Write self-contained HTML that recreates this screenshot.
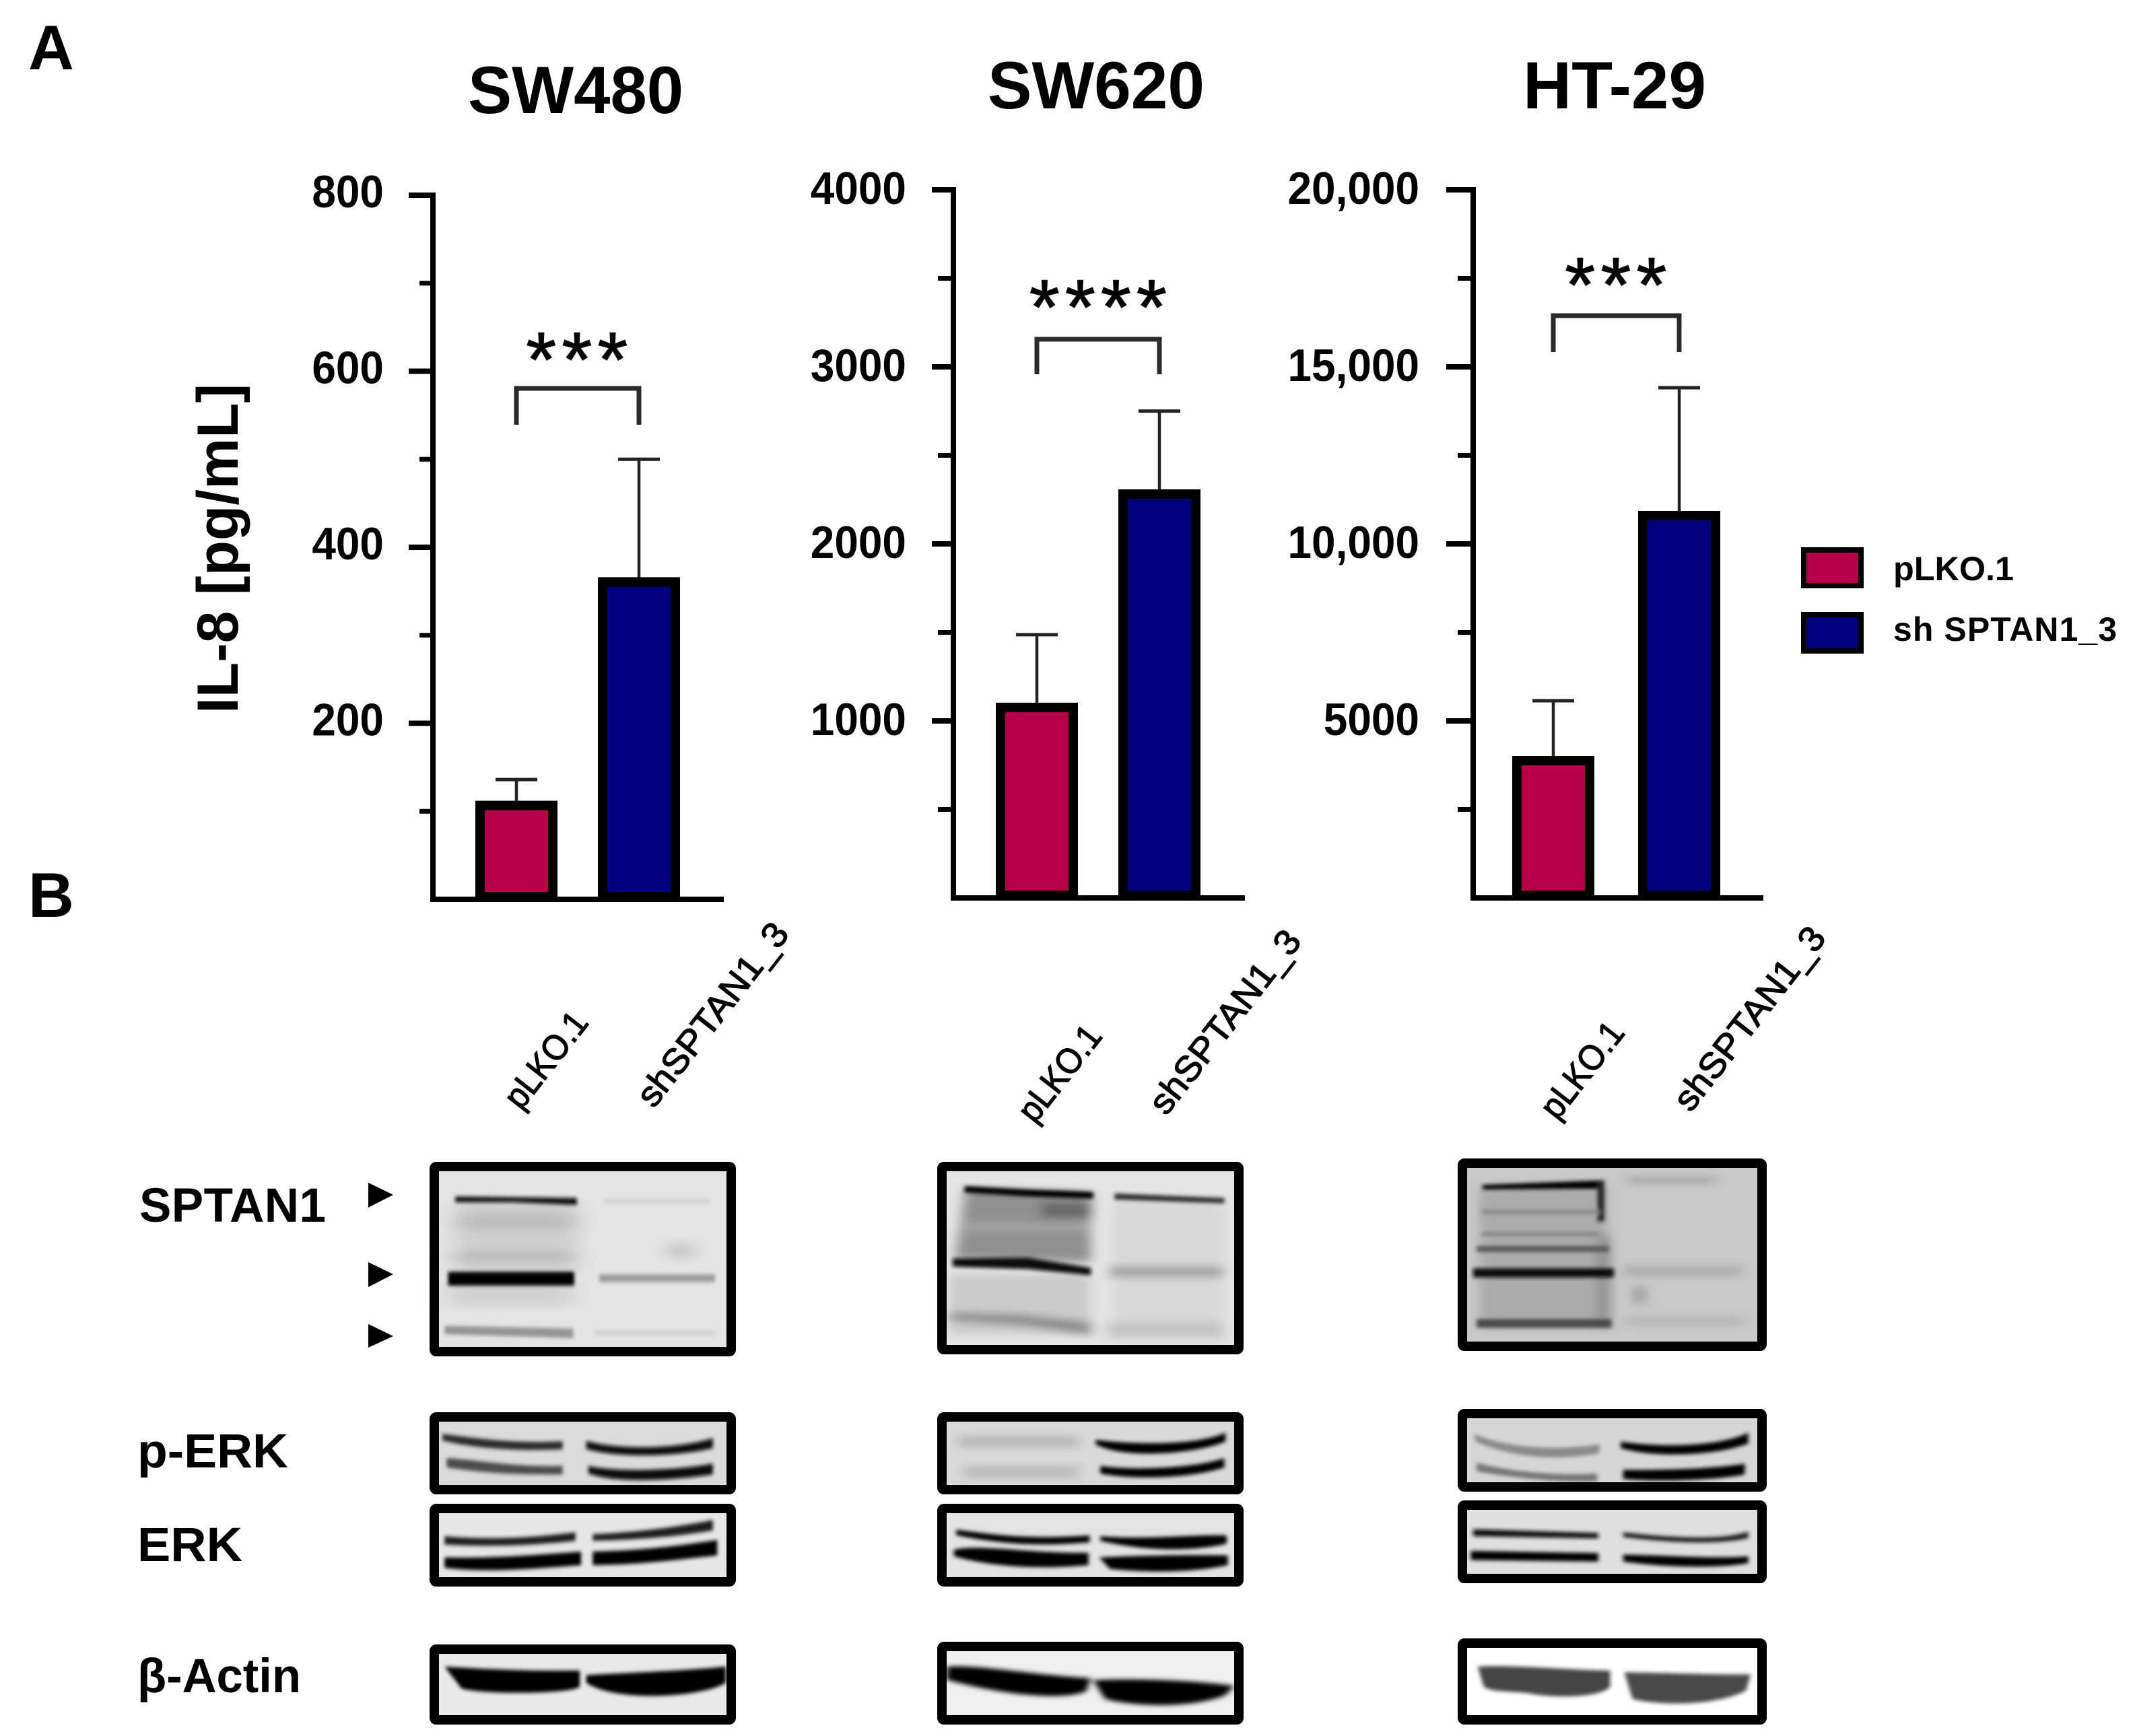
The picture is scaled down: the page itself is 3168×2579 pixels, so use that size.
<!DOCTYPE html>
<html lang="en">
<head>
<meta charset="utf-8">
<title>IL-8 secretion and western blots</title>
<style>
html,body{margin:0;padding:0;background:#fff}
svg{display:block}
text{font-family:"Liberation Sans",sans-serif;fill:#000}
.b{font-weight:bold}
.xl{font-size:53px;stroke:#000;stroke-width:1.3px}
.bl{font-weight:bold;font-size:71px}
</style>
</head>
<body>
<svg id="fig" xmlns="http://www.w3.org/2000/svg" width="3168" height="2579" viewBox="0 0 3168 2579">
<defs>
<filter id="bw" x="-5%" y="-20%" width="110%" height="140%"><feGaussianBlur stdDeviation="4 5"/></filter>
<filter id="bn" x="-5%" y="-20%" width="110%" height="140%"><feGaussianBlur stdDeviation="9 5"/></filter>
<filter id="bs" x="-5%" y="-20%" width="110%" height="140%"><feGaussianBlur stdDeviation="14 6"/></filter>
<filter id="bx" x="-10%" y="-10%" width="120%" height="120%"><feGaussianBlur stdDeviation="26 10"/></filter>
</defs>
<rect width="3168" height="2579" fill="#fff"/>

<text class="b" x="42" y="103" font-size="94">A</text>
<text class="b" x="42" y="1362" font-size="94">B</text>
<text class="b" transform="translate(353,1060) rotate(-90)" font-size="86" textLength="490" lengthAdjust="spacingAndGlyphs">IL-8 [pg/mL]</text>

<g id="charts"></g>

<g>
<rect x="2679" y="817" width="85" height="53" fill="#b8004a" stroke="#000" stroke-width="8"/>
<text class="b" x="2812" y="862" font-size="50" fill="#222" textLength="179" lengthAdjust="spacingAndGlyphs">pLKO.1</text>
<rect x="2679" y="913" width="85" height="54" fill="#000080" stroke="#000" stroke-width="8"/>
<text class="b" x="2812" y="952" font-size="50" fill="#222" textLength="332" lengthAdjust="spacing">sh SPTAN1_3</text>
</g>

<g>
<text class="bl" x="207" y="1815" textLength="277" lengthAdjust="spacing">SPTAN1</text>
<text class="bl" x="204" y="2180" textLength="224" lengthAdjust="spacingAndGlyphs">p-ERK</text>
<text class="bl" x="204" y="2319" textLength="156" lengthAdjust="spacingAndGlyphs">ERK</text>
<text class="bl" x="204" y="2514" textLength="243" lengthAdjust="spacingAndGlyphs">β-Actin</text>
<polygon points="547,1757 584,1775 547,1794"/>
<polygon points="547,1875 584,1893 547,1912"/>
<polygon points="547,1967 584,1985 547,2002"/>
</g>

<!-- column 1 blots -->
<g transform="translate(150,1680) scale(.6378,.5734)">
<rect x="787" y="103" width="670" height="459" fill="#e4e4e4"/>
<rect x="787" y="752" width="670" height="168" fill="#dadada"/>
<rect x="787" y="990" width="670" height="167" fill="#e6e6e6"/>
<rect x="787" y="1355" width="670" height="160" fill="#e9e9e9"/>
<g filter="url(#bx)">
<rect x="825" y="185" width="283" height="180" fill="#cdcdcd"/>
<rect x="825" y="215" width="283" height="40" fill="#bebebe"/>
<rect x="820" y="315" width="283" height="20" fill="#b6b6b6"/>
<rect x="808" y="395" width="290" height="60" fill="#d2d2d2"/>
<circle cx="1350" cy="310" r="24" fill="#bdbdbd"/>
</g>
<g filter="url(#bw)">
<path d="M825,170 L1108,174 L1108,192 L960,185 L825,185Z" fill="#0c0c0c"/>
<rect x="808" y="365" width="294" height="36" fill="#000"/>
<path d="M800,505 L1100,512 L1100,537 L800,527Z" fill="#949494"/>
<rect x="1160" y="372" width="270" height="20" fill="#9c9c9c"/>
<rect x="1170" y="176" width="250" height="12" fill="#d2d2d2"/>
<rect x="1150" y="516" width="280" height="14" fill="#d2d2d2"/>
<path d="M795,785 C850,792 950,812 1075,804 L1075,825 C950,832 850,818 795,802Z" fill="#2a2a2a"/>
<path d="M805,848 C880,852 960,872 1075,868 L1075,890 C960,892 880,885 805,872Z" fill="#4c4c4c"/>
<path d="M1130,803 C1200,826 1340,826 1425,796 L1425,822 C1340,845 1200,848 1130,824Z" fill="#0a0a0a"/>
<path d="M1135,868 C1200,885 1340,880 1425,862 L1425,890 C1340,905 1200,915 1135,888Z" fill="#0a0a0a"/>
<path d="M800,1050 C900,1060 1000,1055 1105,1040 L1105,1062 C1000,1075 900,1078 800,1072Z" fill="#1c1c1c"/>
<path d="M800,1105 C900,1108 1000,1100 1118,1090 L1118,1125 C1000,1135 900,1145 800,1132Z" fill="#000"/>
<path d="M1145,1045 C1250,1040 1350,1025 1425,1008 L1425,1035 C1350,1050 1250,1060 1145,1062Z" fill="#1c1c1c"/>
<path d="M1145,1090 C1250,1088 1350,1075 1435,1060 L1435,1100 C1350,1110 1250,1125 1145,1125Z" fill="#000"/>
<path d="M800,1388 C900,1395 1000,1400 1115,1398 L1115,1440 C1100,1458 900,1462 840,1445Z" fill="#000"/>
<path d="M1130,1410 C1200,1405 1350,1400 1455,1388 L1455,1430 C1400,1468 1200,1482 1130,1430Z" fill="#000"/>
</g>
</g>

<!-- column 2 blots -->
<g transform="translate(1350,1680) scale(.3509,.5734)">
<rect x="160" y="103" width="1217" height="452" fill="#e4e4e4"/>
<rect x="160" y="752" width="1217" height="168" fill="#d9d9d9"/>
<rect x="160" y="990" width="1217" height="167" fill="#e3e3e3"/>
<rect x="160" y="1347" width="1217" height="168" fill="#efefef"/>
<g filter="url(#bx)">
<polygon points="240,150 770,160 770,340 195,330" fill="#909090"/>
<rect x="230" y="240" width="540" height="20" fill="#a6a6a6"/>
<rect x="560" y="185" width="210" height="40" fill="#686868"/>
<rect x="170" y="372" width="600" height="155" fill="#cbcbcb"/>
<path d="M170,470 L480,475 L770,495 L770,530 L480,505 L170,492Z" fill="#8e8e8e"/>
<rect x="865" y="185" width="470" height="360" fill="#d8d8d8"/>
<rect x="850" y="350" width="480" height="30" fill="#a4a4a4"/>
<rect x="840" y="495" width="490" height="40" fill="#c4c4c4"/>
<rect x="210" y="790" width="510" height="30" fill="#b8b8b8"/>
<rect x="230" y="868" width="490" height="32" fill="#bbb"/>
</g>
<g filter="url(#bn)">
<path d="M235,143 L500,152 L780,158 L780,176 L500,170 L235,160Z" fill="#000"/>
<path d="M185,330 L500,328 L770,355 L770,374 L500,358 L185,352Z" fill="#0a0a0a"/>
<path d="M870,162 L1335,174 L1335,188 L870,178Z" fill="#2e2e2e"/>
<path d="M790,800 C900,810 1200,820 1340,782 L1340,805 C1200,840 900,850 790,812Z" fill="#000"/>
<path d="M810,868 C950,880 1200,875 1335,848 L1335,872 C1200,900 950,905 810,888Z" fill="#000"/>
<path d="M200,1033 C350,1045 500,1060 765,1048 L765,1066 C500,1080 350,1065 200,1048Z" fill="#000"/>
<path d="M190,1085 C300,1070 500,1095 760,1093 L760,1125 C500,1140 300,1122 190,1102Z" fill="#000"/>
<path d="M810,1050 C1000,1060 1200,1045 1345,1048 L1345,1070 C1200,1090 1000,1090 810,1062Z" fill="#000"/>
<path d="M805,1105 C1000,1100 1200,1098 1350,1100 L1350,1125 C1200,1145 1000,1145 850,1135Z" fill="#000"/>
</g>
<g filter="url(#bs)">
<path d="M160,1388 C300,1383 500,1408 770,1418 L750,1452 C650,1477 400,1462 160,1422Z" fill="#000"/>
<path d="M780,1423 C950,1418 1200,1423 1377,1438 L1340,1462 C1200,1497 950,1492 830,1472Z" fill="#000"/>
</g>
</g>

<!-- column 3 blots -->
<g transform="translate(2130,1680) scale(.3509,.5734)">
<rect x="138" y="95" width="1230" height="452" fill="#c9c9c9"/>
<rect x="138" y="745" width="1230" height="165" fill="#d6d6d6"/>
<rect x="138" y="982" width="1230" height="166" fill="#dfdfdf"/>
<rect x="138" y="1340" width="1230" height="175" fill="#fff"/>
<g filter="url(#bx)">
<rect x="190" y="145" width="545" height="365" fill="#ababab"/>
<rect x="700" y="270" width="40" height="240" fill="#7e7e7e"/>
<circle cx="870" cy="425" r="26" fill="#9a9a9a"/>
<rect x="800" y="352" width="500" height="22" fill="#a8a8a8"/>
<rect x="810" y="484" width="500" height="18" fill="#b0b0b0"/>
<rect x="820" y="120" width="370" height="16" fill="#a0a0a0"/>
</g>
<g filter="url(#bn)">
<path d="M205,140 L720,128 L720,150 L205,152Z" fill="#000"/>
<rect x="692" y="130" width="28" height="105" fill="#222"/>
<rect x="200" y="205" width="500" height="10" fill="#858585"/>
<rect x="200" y="262" width="500" height="10" fill="#858585"/>
<rect x="180" y="298" width="560" height="16" fill="#5c5c5c"/>
<rect x="165" y="356" width="595" height="24" fill="#0c0c0c"/>
<rect x="180" y="488" width="570" height="22" fill="#484848"/>
<path d="M170,785 C300,820 500,830 700,812 L700,835 C500,860 300,840 175,805Z" fill="#8a8a8a"/>
<path d="M180,860 C300,880 500,895 690,888 L690,908 C500,912 300,895 180,882Z" fill="#757575"/>
<path d="M790,805 C950,820 1200,820 1330,782 L1330,810 C1200,840 950,850 790,822Z" fill="#000"/>
<path d="M800,878 C950,880 1200,875 1315,862 L1315,890 C1200,905 950,910 800,902Z" fill="#000"/>
<path d="M165,1032 L695,1042 L695,1056 L165,1050Z" fill="#0a0a0a"/>
<path d="M155,1088 L695,1094 L695,1116 L155,1112Z" fill="#000"/>
<path d="M800,1040 C950,1050 1200,1065 1330,1038 L1330,1055 C1200,1075 950,1065 800,1052Z" fill="#1c1c1c"/>
<path d="M800,1098 C950,1098 1200,1110 1330,1102 L1330,1120 C1200,1135 950,1130 800,1116Z" fill="#000"/>
<path d="M185,1388 C350,1383 600,1398 745,1398 L745,1440 C700,1470 500,1470 400,1457 C300,1450 250,1455 210,1440Z" fill="#444"/>
<path d="M805,1403 C950,1403 1200,1410 1340,1408 L1320,1450 C1200,1490 950,1490 840,1472Z" fill="#484848"/>
</g>
</g>

<!-- blot frames -->
<g fill="none" stroke="#000" stroke-width="14">
<rect x="645" y="1733" width="441" height="275" rx="3"/>
<rect x="645" y="2105" width="441" height="108" rx="3"/>
<rect x="645" y="2241" width="441" height="109" rx="3"/>
<rect x="645" y="2450" width="441" height="105" rx="3"/>
<rect x="1399" y="1733" width="441" height="272" rx="3"/>
<rect x="1399" y="2105" width="441" height="108" rx="3"/>
<rect x="1399" y="2241" width="441" height="109" rx="3"/>
<rect x="1399" y="2446" width="441" height="109" rx="3"/>
<rect x="2172" y="1728" width="445" height="272" rx="3"/>
<rect x="2172" y="2100" width="445" height="109" rx="3"/>
<rect x="2172" y="2236" width="445" height="109" rx="3"/>
<rect x="2172" y="2441" width="445" height="114" rx="3"/>
</g>
</svg>

<script>
const categories = ['pLKO.1', 'shSPTAN1_3'];
const sw480Values = [112, 366];
const sw480Errors = [24, 134];
const sw480Ticks = [200, 400, 600, 800];
const sw480TickLabels = ['200', '400', '600', '800'];
const sw480MinorTicks = [100, 300, 500, 700];
const sw620Values = [1103, 2308];
const sw620Errors = [384, 442];
const sw620Ticks = [1000, 2000, 3000, 4000];
const sw620TickLabels = ['1000', '2000', '3000', '4000'];
const sw620MinorTicks = [500, 1500, 2500, 3500];
const ht29Values = [4011, 10932];
const ht29Errors = [1559, 3478];
const ht29Ticks = [5000, 10000, 15000, 20000];
const ht29TickLabels = ['5000', '10,000', '15,000', '20,000'];
const ht29MinorTicks = [2500, 7500, 12500, 17500];

const barColors = ['#b8004a', '#000080'];
const categoryLengths = [166, 330];
const NS = 'http://www.w3.org/2000/svg';
const root = document.getElementById('charts');

function make(tag, attrs, parent, txt) {
  const el = document.createElementNS(NS, tag);
  for (const k in attrs) el.setAttribute(k, attrs[k]);
  if (txt !== undefined) el.textContent = txt;
  parent.appendChild(el);
  return el;
}

function drawChart(c) {
  const g = make('g', {}, root);
  
  
  const y = v => c.base - (v / c.max) * (c.base - c.top);
  const x = i => c.x0 + i * c.step;

  const title = make('text', {x: c.titleX, y: c.titleY, 'font-size': 99, 'font-weight': 'bold', 'text-anchor': 'middle', textLength: c.titleLen, lengthAdjust: 'spacingAndGlyphs'}, g, c.title);
  
  

  c.values.forEach((v, i) => {
    const top = y(v + c.errors[i]);
    const stem = make('line', {x1: x(i), x2: x(i), y1: top, y2: y(v), stroke: '#222', 'stroke-width': 4.5}, g);
    
    
    const cap = make('line', {x1: x(i) - 31, x2: x(i) + 31, y1: top, y2: top, stroke: '#222', 'stroke-width': 5}, g);
    
    
    const bar = make('rect', {x: x(i) - 54, y: y(v) + 7, width: 108, height: Math.max(0, c.base - y(v) - 11), fill: barColors[i], stroke: '#000', 'stroke-width': 14}, g);
    
    
  });

  const axis = make('path', {d: 'M' + c.axisX + ' ' + (c.top - 4) + ' V' + c.base + ' H' + c.axisEnd, fill: 'none', stroke: '#000', 'stroke-width': 8}, g);
  
  

  c.ticks.forEach((t, i) => {
    const tick = make('line', {x1: c.axisX - c.majorLen, x2: c.axisX, y1: y(t), y2: y(t), stroke: '#000', 'stroke-width': 8}, g);
    
    
    const lab = make('text', {x: c.labelRight, y: y(t) + c.labelDy, 'font-size': 68, 'font-weight': 'bold', 'text-anchor': 'end'}, g, c.tickLabels[i]);
    lab.setAttribute('textLength', lab.getComputedTextLength() * 0.94);
    lab.setAttribute('lengthAdjust', 'spacingAndGlyphs');
    
    
  });
  c.minor.forEach(t => {
    const tick = make('line', {x1: c.axisX - c.minorLen, x2: c.axisX, y1: y(t), y2: y(t), stroke: '#000', 'stroke-width': 7}, g);
    
    
  });

  const bracket = make('path', {d: 'M' + x(0) + ' ' + c.brBottom + ' V' + c.brTop + ' H' + x(1) + ' V' + c.brBottom, fill: 'none', stroke: '#2a2a2a', 'stroke-width': 7}, g);
  
  
  const stars = make('text', {x: c.starX + 4, y: c.starY + 54, 'font-size': 115, 'text-anchor': 'middle', 'letter-spacing': 8.3, fill: '#111', stroke: '#111', 'stroke-width': 1.5}, g, c.stars);
  
  

  categories.forEach((name, i) => {
    const e = c.catEnds[i];
    const lab = make('text', {class: 'xl', 'text-anchor': 'end', textLength: categoryLengths[i], lengthAdjust: 'spacingAndGlyphs', transform: 'translate(' + e[0] + ',' + e[1] + ') rotate(-52)'}, g, name);
    
    
  });
}

drawChart({key: 'sw480', title: 'SW480', titleX: 855, titleY: 168, titleLen: 320, values: sw480Values, errors: sw480Errors, ticks: sw480Ticks, tickLabels: sw480TickLabels, minor: sw480MinorTicks, max: 800, top: 290, base: 1336, axisX: 643, axisEnd: 1075, majorLen: 36, minorLen: 20, labelRight: 570, labelDy: 18, x0: 767, step: 182, brTop: 577, brBottom: 631, stars: '***', starX: 857, starY: 520, catEnds: [[876, 1520], [1174, 1388]]});
drawChart({key: 'sw620', title: 'SW620', titleX: 1628, titleY: 161, titleLen: 322, values: sw620Values, errors: sw620Errors, ticks: sw620Ticks, tickLabels: sw620TickLabels, minor: sw620MinorTicks, max: 4000, top: 282, base: 1334, axisX: 1416, axisEnd: 1849, majorLen: 32, minorLen: 23, labelRight: 1346, labelDy: 21, x0: 1540, step: 182, brTop: 504, brBottom: 556, stars: '****', starX: 1631, starY: 442, catEnds: [[1639, 1540], [1935, 1399]]});
drawChart({key: 'ht29', title: 'HT-29', titleX: 2398, titleY: 161, titleLen: 272, values: ht29Values, errors: ht29Errors, ticks: ht29Ticks, tickLabels: ht29TickLabels, minor: ht29MinorTicks, max: 20000, top: 282, base: 1334, axisX: 2188, axisEnd: 2619, majorLen: 40, minorLen: 23, labelRight: 2108, labelDy: 21, x0: 2307, step: 187, brTop: 469, brBottom: 523, stars: '***', starX: 2400, starY: 409, catEnds: [[2415, 1535], [2714, 1394]]});
</script>
</body>
</html>
